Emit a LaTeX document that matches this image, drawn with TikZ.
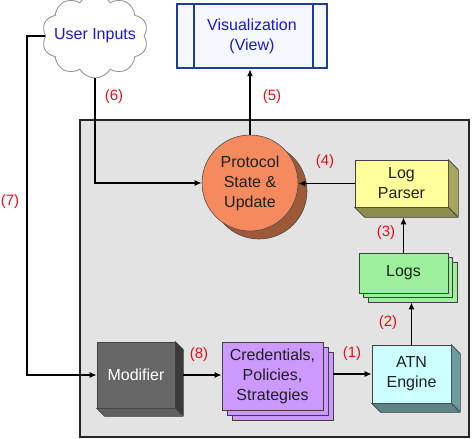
\documentclass[tikz,border=0pt]{standalone}
\usepackage{fontspec}
\setmainfont{Liberation Sans}
\usetikzlibrary{shapes.symbols,arrows.meta}
\definecolor{bggray}{HTML}{E3E3E3}
\definecolor{uiblue}{HTML}{1818D8}
\definecolor{visborder}{HTML}{1E3C9A}
\definecolor{visfill}{HTML}{F6F8FF}
\definecolor{lblred}{HTML}{E5101A}
\definecolor{circfill}{HTML}{F58A5E}
\definecolor{circshadow}{HTML}{9E5A38}
\definecolor{lpfront}{HTML}{FFFF9C}
\definecolor{lpside}{HTML}{A6A65E}
\definecolor{logfill}{HTML}{9CF09C}
\definecolor{atnfront}{HTML}{CCFFFF}
\definecolor{atnside}{HTML}{6E9C9C}
\definecolor{credfill}{HTML}{CC99FF}
\definecolor{modfront}{HTML}{676767}
\definecolor{modside}{HTML}{3A3A3A}
\definecolor{txtdark}{HTML}{202020}
\begin{document}
\begin{tikzpicture}[x=1pt,y=-1pt,
  maintext/.style={font=\fontsize{16}{20}\selectfont, align=center},
  lbl/.style={font=\fontsize{15}{18}\selectfont, text=lblred, inner sep=0pt},
  conn/.style={line width=1.6pt, draw=black},
  arr/.style={conn, -{Latex[length=7pt,width=6pt]}},
  boxface/.style={draw=black!75, line width=0.6pt, inner sep=0pt, maintext, text=txtdark},
  sideface/.style={draw=black!75, line width=0.6pt}
]
\useasboundingbox (0,0) rectangle (474,439);
% background panel
\fill[white] (0,0) rectangle (474,439);
\draw[fill=bggray, draw=black!85, line width=1.2pt] (80,120) rectangle (469,437);

% cloud
\node[cloud, cloud puffs=10, cloud puff arc=120, draw=black!45, fill=white, line width=0.8pt,
      minimum width=106pt, minimum height=84pt, inner sep=0pt] (ui) at (95,36) {};
\node[maintext, text=uiblue, inner sep=0pt] (uitext) at (ui.center) {User Inputs};

% visualization box
\node[draw=visborder, line width=2.4pt, fill=visfill, minimum width=150pt, minimum height=64pt,
      inner sep=0pt, maintext, text=uiblue] (vis) at (252,36) {Visualization\\(View)};
\draw[visborder, line width=2.4pt] ([xshift=18pt]vis.north west) -- ([xshift=18pt]vis.south west);
\draw[visborder, line width=2.4pt] ([xshift=-15pt]vis.north east) -- ([xshift=-15pt]vis.south east);

% protocol state circle
\fill[circshadow, draw=black!70, line width=0.6pt] (259,191) circle (48);
\node[circle, draw=black!70, line width=0.6pt, fill=circfill, minimum size=96pt, inner sep=0pt,
      maintext, text=txtdark] (circ) at (250,183) {Protocol\\State \&\\Update};

% log parser (3D box)
\node[boxface, fill=lpfront, minimum width=93pt, minimum height=47pt] (lp) at (401.5,183.5) {Log\\Parser};
\filldraw[sideface, fill=lpside] (lp.north east) -- ++(10,10) -- ++(0,47) -- (lp.south east) -- cycle;
\filldraw[sideface, fill=lpside!85!black] (lp.south west) -- ++(10,10) -- ++(93,0) -- (lp.south east) -- cycle;

% logs (stacked)
\node[boxface, fill=logfill, minimum width=89pt, minimum height=40pt] (logs3) at (412.5,282) {};
\node[boxface, fill=logfill, minimum width=89pt, minimum height=40pt] (logs2) at (408,277.5) {};
\node[boxface, fill=logfill, minimum width=89pt, minimum height=40pt] (logs) at (403.5,273) {Logs};

% ATN engine (3D box)
\node[boxface, fill=atnfront, minimum width=79pt, minimum height=58pt] (atn) at (411.5,374) {ATN\\Engine};
\filldraw[sideface, fill=atnside] (atn.north east) -- ++(9,9) -- ++(0,58) -- (atn.south east) -- cycle;
\filldraw[sideface, fill=atnside!85!black] (atn.south west) -- ++(9,9) -- ++(79,0) -- (atn.south east) -- cycle;

% credentials (stacked)
\node[boxface, fill=credfill, minimum width=101pt, minimum height=68pt] (cred3) at (282.5,386) {};
\node[boxface, fill=credfill, minimum width=101pt, minimum height=68pt] (cred2) at (277.5,381) {};
\node[boxface, fill=credfill, minimum width=101pt, minimum height=68pt] (cred) at (272.5,376) {Credentials,\\Policies,\\Strategies};

% modifier (3D box)
\node[boxface, fill=modfront, text=white, minimum width=78pt, minimum height=66pt] (mod) at (136,375) {Modifier};
\filldraw[sideface, fill=modside] (mod.north east) -- ++(8,8) -- ++(0,66) -- (mod.south east) -- cycle;
\filldraw[sideface, fill=modside!80!white] (mod.south west) -- ++(8,8) -- ++(78,0) -- (mod.south east) -- cycle;

% connectors
\coordinate (left7) at (27,0);
\draw[arr] (ui.west) -- (left7 |- ui.west) -- (left7 |- mod.west) -- (mod.west);
\draw[arr] (ui.south) |- (circ.west);
\draw[arr] (circ.north) -- (circ.north |- vis.south);
\draw[arr] (lp.west) -- (circ.east |- lp.west);
\draw[arr] (logs.north) -- ([yshift=-10pt]lp.south -| logs.north);
\draw[arr] (atn.north) -- (atn.north |- logs3.south);
\draw[arr] (cred3.east |- atn.west) -- (atn.west);
\draw[arr] ([xshift=8pt]mod.east) -- (cred.west |- mod.east);

% labels
\node[lbl] (l1) at (352,354) {(1)};
\node[lbl] (l2) at (388,323) {(2)};
\node[lbl] (l3) at (386,233) {(3)};
\node[lbl] (l4) at (325,162) {(4)};
\node[lbl] (l5) at (272,97) {(5)};
\node[lbl] (l6) at (114,97) {(6)};
\node[lbl] (l7) at (10,202) {(7)};
\node[lbl] (l8) at (199,355) {(8)};
\end{tikzpicture}
\end{document}
